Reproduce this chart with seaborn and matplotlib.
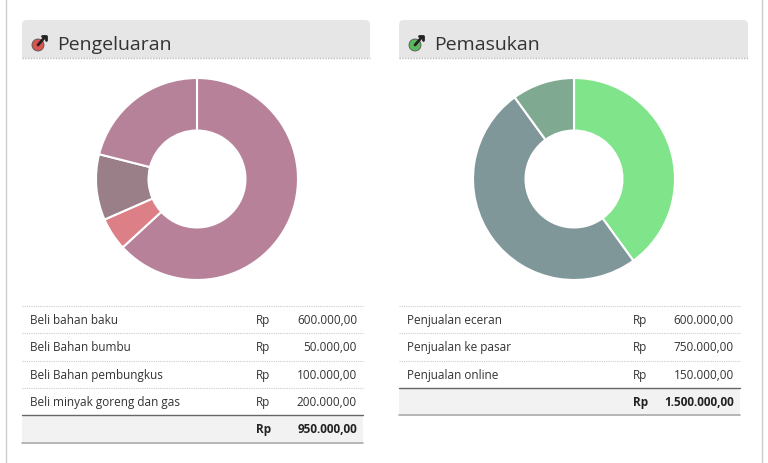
import matplotlib.pyplot as plt
import seaborn as sns
from matplotlib.patches import FancyBboxPatch, Rectangle, Circle

sns.set_theme(style="white")
plt.rcParams['font.family'] = ['Open Sans', 'DejaVu Sans']

# data
out_labels = ["Beli bahan baku", "Beli Bahan bumbu", "Beli Bahan pembungkus", "Beli minyak goreng dan gas"]
out_values = [600000, 50000, 100000, 200000]
out_colors = ["#b8819a", "#dd7f87", "#9a7f89", "#b68299"]
in_labels = ["Penjualan eceran", "Penjualan ke pasar", "Penjualan online"]
in_values = [600000, 750000, 150000]
in_colors = ["#80e58a", "#80979a", "#7fa990"]


def rp(v):
    s = f"{v:,.2f}"
    return s.replace(",", "X").replace(".", ",").replace("X", ".")


W, H = 768, 464
fig = plt.figure(figsize=(W / 100, H / 100), dpi=100)
bg = fig.add_axes([0, 0, 1, 1])
bg.set_xlim(0, W)
bg.set_ylim(H, 0)
bg.axis("off")
bg.axvline(6, color="#cccccc", lw=1)
bg.axvline(762, color="#cccccc", lw=1)


def panel(x0, x1, title, icon_color, labels, values, colors, cx):
    # header
    bg.add_patch(FancyBboxPatch((x0, 21), x1 - x0, 38, boxstyle="round,pad=0,rounding_size=5",
                                fc="#e6e6e6", ec="none"))
    bg.add_patch(Rectangle((x0, 50), x1 - x0, 9, fc="#e6e6e6", ec="none"))
    bg.plot([x0, x1], [59, 59], color="#bbbbbb", lw=1, ls=(0, (1, 1)))
    bg.add_patch(Circle((x0 + 16, 46), 6, fc=icon_color, ec="#555555", lw=0.6))
    bg.plot([x0 + 16, x0 + 23], [46, 38], color="#222222", lw=2, solid_capstyle="round")
    bg.plot([x0 + 20, x0 + 24, x0 + 24], [37, 37, 41], color="#222222", lw=2)
    bg.text(x0 + 35, 45, title, fontsize=14, color="#333333", va="center")

    # donut
    r = 101
    ax = fig.add_axes([(cx - r) / W, 1 - (180 + r) / H, 2 * r / W, 2 * r / H])
    ax.pie(values, colors=colors, startangle=90, counterclock=False, radius=1,
           wedgeprops=dict(width=0.52, edgecolor="white", linewidth=1.5))
    ax.set_xlim(-1, 1)
    ax.set_ylim(-1, 1)
    ax.set_aspect("equal")

    # table
    tw = 341
    xr = x0 + tw
    y = 307
    rowh = 27.3
    fs = 8.5
    bg.plot([x0, xr], [y, y], color="#cccccc", lw=0.8, ls=(0, (1, 1)))
    for i, (lab, val) in enumerate(zip(labels, values)):
        yc = y + rowh / 2
        bg.text(x0 + 8, yc, lab, fontsize=fs, color="#333333", va="center")
        bg.text(x0 + 234, yc, "Rp", fontsize=fs, color="#333333", va="center")
        bg.text(xr - 6, yc, rp(val), fontsize=fs, color="#333333", va="center", ha="right")
        y += rowh
        if i < len(labels) - 1:
            bg.plot([x0, xr], [y, y], color="#cccccc", lw=0.8, ls=(0, (1, 1)))
    bg.add_patch(Rectangle((x0, y), tw, rowh, fc="#f2f2f2", ec="none"))
    bg.plot([x0, xr], [y, y], color="#666666", lw=1)
    bg.plot([x0, xr], [y + rowh, y + rowh], color="#aaaaaa", lw=1.2)
    yc = y + rowh / 2
    bg.text(x0 + 234, yc, "Rp", fontsize=fs, color="#222222", va="center", weight="bold")
    bg.text(xr - 6, yc, rp(sum(values)), fontsize=fs, color="#222222", va="center",
            ha="right", weight="bold")


panel(22, 370, "Pengeluaran", "#d9534f", out_labels, out_values, out_colors, 197)
panel(399, 748, "Pemasukan", "#5cb85c", in_labels, in_values, in_colors, 574)

fig.savefig("out.png", dpi=100)
